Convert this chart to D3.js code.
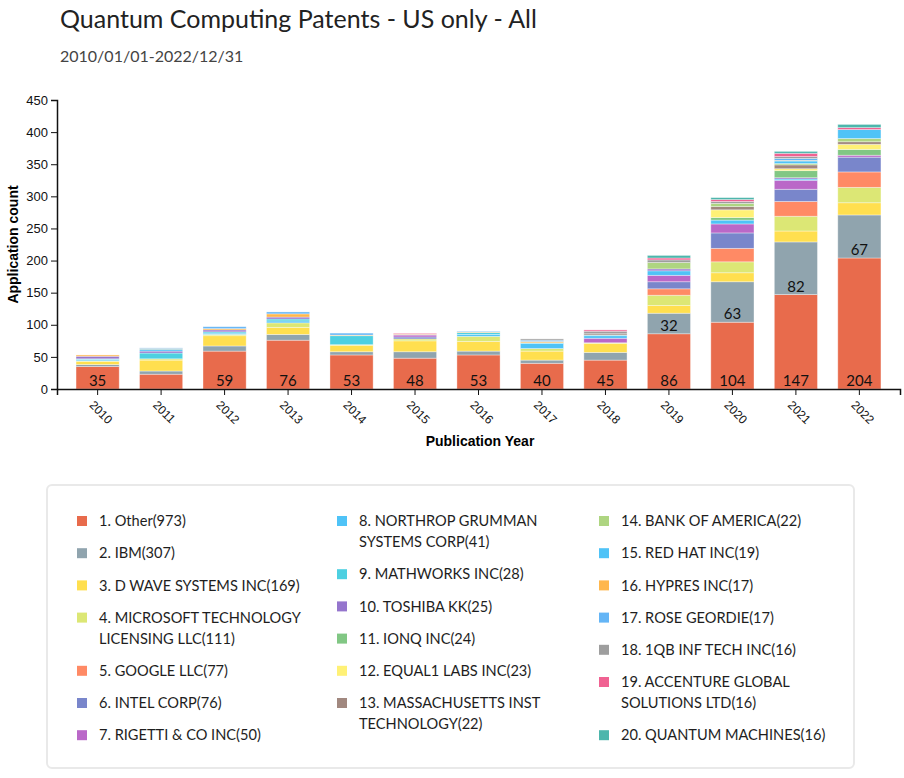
<!DOCTYPE html>
<html>
<head>
<meta charset="utf-8">
<script src="https://cdn.jsdelivr.net/npm/d3@7"></script>
<style>
  body { margin: 0; background: #fff; }
  .title { font-family: Lato, "Noto Sans", sans-serif; }
  .axis text { font-family: "Liberation Sans", Arial, sans-serif; fill: #111; }
  .axis path, .axis line { stroke: #111; }
  .legend text { font-family: Lato, "Noto Sans", sans-serif; font-size: 14.6px; fill: #1e1e1e; }
</style>
</head>
<body>
<div id="chart"></div>
<script>
// publication years on the x axis
const years = [2010, 2011, 2012, 2013, 2014, 2015, 2016, 2017, 2018, 2019, 2020, 2021, 2022];

// assignees in stack order, with the totals shown in the legend
const companies = ["Other", "IBM", "D WAVE SYSTEMS INC", "MICROSOFT TECHNOLOGY LICENSING LLC",
  "GOOGLE LLC", "INTEL CORP", "RIGETTI & CO INC", "NORTHROP GRUMMAN SYSTEMS CORP",
  "MATHWORKS INC", "TOSHIBA KK", "IONQ INC", "EQUAL1 LABS INC", "MASSACHUSETTS INST TECHNOLOGY",
  "BANK OF AMERICA", "RED HAT INC", "HYPRES INC", "ROSE GEORDIE", "1QB INF TECH INC",
  "ACCENTURE GLOBAL SOLUTIONS LTD", "QUANTUM MACHINES"];
const totals = [973, 307, 169, 111, 77, 76, 50, 41, 28, 25, 24, 23, 22, 22, 19, 17, 17, 16, 16, 16];

// application counts per year (2010 .. 2022), one row per assignee
const counts = [
  [35, 23, 59, 76, 53, 48, 53, 40, 45, 86, 104, 147, 204], // Other
  [3, 5, 8, 9, 5, 10, 6, 5, 12, 32, 63, 82, 67],           // IBM
  [5, 17, 16, 11, 10, 17, 15, 14, 14, 12, 14, 17, 19],     // D Wave
  [1, 2, 2, 7, 1, 3, 8, 4, 1, 16, 17, 23, 24],             // Microsoft
  [0, 0, 0, 0, 0, 0, 0, 0, 0, 10, 21, 23, 24],             // Google
  [0, 0, 0, 0, 0, 3, 0, 0, 0, 11, 24, 19, 23],             // Intel
  [0, 0, 0, 0, 0, 3, 0, 0, 7, 10, 14, 14, 3],              // Rigetti
  [2, 0, 2, 3, 0, 0, 3, 8, 4, 7, 6, 2, 0],                 // Northrop
  [1, 9, 2, 3, 14, 0, 3, 1, 1, 0, 0, 0, 0],                // Mathworks
  [4, 3, 3, 3, 0, 1, 0, 0, 0, 3, 0, 2, 0],                 // Toshiba
  [0, 0, 0, 0, 0, 0, 0, 0, 0, 0, 4, 11, 9],                // IonQ
  [0, 0, 0, 0, 0, 0, 0, 0, 0, 0, 12, 3, 8],                // Equal1
  [0, 0, 0, 0, 0, 0, 0, 0, 2, 0, 5, 6, 4],                 // MIT
  [0, 0, 0, 0, 0, 0, 0, 0, 0, 10, 5, 2, 5],                // Bank of America
  [0, 3, 0, 0, 0, 0, 0, 0, 0, 0, 0, 4, 14],                // Red Hat
  [2, 1, 2, 5, 1, 1, 1, 2, 0, 0, 0, 1, 0],                 // Hypres
  [0, 1, 3, 3, 3, 0, 1, 2, 0, 0, 0, 3, 0],                 // Rose Geordie
  [0, 0, 0, 0, 0, 0, 0, 2, 4, 4, 3, 3, 0],                 // 1QB
  [0, 0, 0, 0, 0, 1, 0, 0, 2, 3, 3, 5, 3],                 // Accenture
  [0, 0, 0, 0, 0, 0, 0, 0, 0, 4, 3, 3, 5]                  // Quantum Machines
];

const yTicks = [0, 50, 100, 150, 200, 250, 300, 350, 400, 450];

const colors = ["#e86b4c", "#90a4ae", "#ffdf4f", "#dce775", "#ff8a65", "#7986cb", "#ba68c8",
  "#4fc3f7", "#4dd0e1", "#9575cd", "#81c784", "#fff176", "#a1887f", "#aed581", "#4fc3f7",
  "#ffb74d", "#64b5f6", "#9e9e9e", "#f06292", "#4db6ac"];

const width = 904, height = 778;
const plotLeft = 57, plotRight = 900, plotTop = 100, plotBottom = 389;

const svg = d3.select("#chart").append("svg")
  .attr("width", width)
  .attr("height", height);

svg.append("text").attr("class", "title")
  .attr("x", 60).attr("y", 28)
  .style("font-size", "25px").style("fill", "#222")
  .text("Quantum Computing Patents - US only - All");

svg.append("text").attr("class", "title")
  .attr("x", 60).attr("y", 62)
  .style("font-size", "16px").style("fill", "#444")
  .text("2010/01/01-2022/12/31");

// rows for the stack
const rows = years.map((y, i) => {
  const r = { year: y };
  companies.forEach((c, j) => r[c] = counts[j][i]);
  return r;
});
const stacked = d3.stack().keys(companies)(rows);

const xScale = d3.scaleBand()
  .domain(years)
  .range([plotLeft, plotRight])
  .paddingInner(0.32)
  .paddingOuter(0.3);

const yScale = d3.scaleLinear()
  .domain([0, 450])
  .range([plotBottom, plotTop]);

const layer = svg.append("g").selectAll("g")
  .data(stacked)
  .enter().append("g")
  .attr("fill", (d, i) => colors[i]);

layer.selectAll("rect")
  .data(d => d)
  .enter().append("rect")
  .attr("x", d => xScale(d.data.year))
  .attr("width", xScale.bandwidth())
  .attr("y", d => yScale(d[1]))
  .attr("height", d => yScale(d[0]) - yScale(d[1]))
  .attr("stroke", "#fff")
  .attr("stroke-opacity", 0.45)
  .attr("stroke-width", 0.8);

// value labels inside the bigger segments
layer.selectAll("text")
  .data(d => d.filter(s => yScale(s[0]) - yScale(s[1]) >= 20))
  .enter().append("text")
  .attr("x", d => xScale(d.data.year) + xScale.bandwidth() / 2)
  .attr("y", d => yScale(d[0]) - 8)
  .attr("dy", "0.35em")
  .attr("text-anchor", "middle")
  .style("font-family", "Lato, 'Noto Sans', sans-serif")
  .style("font-size", "15px")
  .style("fill", "#111")
  .text(d => d[1] - d[0]);

const xAxis = d3.axisBottom(xScale).tickSizeOuter(0).tickSize(6);
const gx = svg.append("g")
  .attr("class", "axis x-axis")
  .attr("transform", `translate(0, ${plotBottom})`)
  .call(xAxis);
gx.select(".domain").attr("stroke-width", 1.5);
gx.selectAll(".tick text")
  .style("font-size", "12px")
  .attr("text-anchor", "start")
  .attr("x", 5.5)
  .attr("y", 14)
  .attr("dy", "0.35em")
  .attr("transform", "rotate(45)");

const yAxis = d3.axisLeft(yScale).tickValues(yTicks).tickSizeOuter(0).tickSize(6);
const gy = svg.append("g")
  .attr("class", "axis y-axis")
  .attr("transform", `translate(${plotLeft}, 0)`)
  .call(yAxis);
gy.select(".domain").attr("stroke-width", 1.5);
gy.selectAll(".tick text").style("font-size", "13px");

svg.append("text")
  .attr("transform", `translate(18, ${(plotTop + plotBottom) / 2}) rotate(-90)`)
  .attr("text-anchor", "middle")
  .style("font-family", "'Liberation Sans', Arial, sans-serif")
  .style("font-weight", "bold").style("font-size", "14px")
  .text("Application count");

svg.append("text")
  .attr("x", 480).attr("y", 446)
  .attr("text-anchor", "middle")
  .style("font-family", "'Liberation Sans', Arial, sans-serif")
  .style("font-weight", "bold").style("font-size", "14px")
  .text("Publication Year");

// legend
svg.append("rect")
  .attr("x", 47).attr("y", 485)
  .attr("width", 807).attr("height", 283)
  .attr("rx", 5)
  .attr("fill", "none")
  .attr("stroke", "#e9e9e9")
  .attr("stroke-width", 2);

const legend = svg.append("g").attr("class", "legend");
const columns = [[0, 7], [7, 13], [13, 20]];
const colX = [77, 337, 599];

function wrapWords(textSel, words, maxW) {
  const lines = [];
  let line = [];
  words.forEach(w => {
    line.push(w);
    textSel.text(line.join(" "));
    if (textSel.node().getComputedTextLength() > maxW && line.length > 1) {
      line.pop();
      lines.push(line.join(" "));
      line = [w];
    }
  });
  lines.push(line.join(" "));
  return lines;
}

columns.forEach(([a, b], ci) => {
  let cy = 521;
  for (let i = a; i < b; i++) {
    const g = legend.append("g");
    g.append("rect")
      .attr("x", colX[ci]).attr("y", cy - 5)
      .attr("width", 10).attr("height", 10)
      .attr("fill", colors[i]);
    const label = `${i + 1}. ${companies[i]}(${totals[i]})`;
    const t = g.append("text").attr("x", colX[ci] + 22).attr("y", cy).attr("dy", "0.35em");
    const lines = wrapWords(t, label.split(" "), 225);
    t.text(null);
    lines.forEach((l, k) => {
      t.append("tspan")
        .attr("x", colX[ci] + 22)
        .attr("y", cy + k * 21.3)
        .attr("dy", "0.35em")
        .text(l);
    });
    cy += 32.2 + (lines.length - 1) * 21;
  }
});
</script>
</body>
</html>
